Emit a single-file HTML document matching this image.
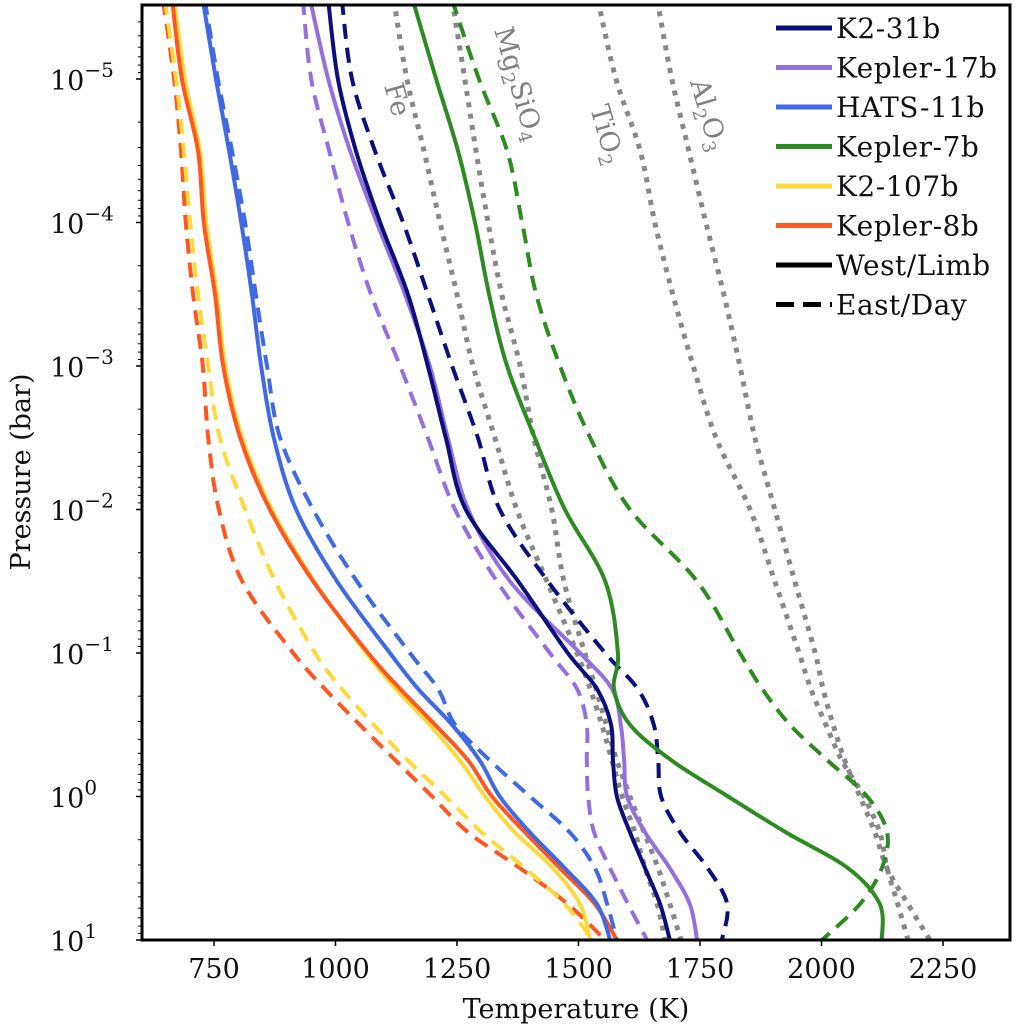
<!DOCTYPE html>
<html><head><meta charset="utf-8"><style>
body{margin:0;background:#fff}
svg{display:block}
.tk{font-family:"DejaVu Serif","Liberation Serif",serif;font-size:27px;fill:#111}
.lg{font-family:"DejaVu Serif","Liberation Serif",serif;font-size:28px;fill:#111;letter-spacing:0.5px}
.cl{font-family:"DejaVu Serif","Liberation Serif",serif;font-size:27px;fill:#808080}
</style></head><body>
<svg id="chart" width="1020" height="1033" viewBox="0 0 1020 1033" xmlns="http://www.w3.org/2000/svg">
<defs><clipPath id="clip"><rect x="143" y="6" width="866" height="933"/></clipPath></defs>
<g id="plot" clip-path="url(#clip)"></g>
<g id="axes"></g>
<g id="legend"></g>
</svg>
<script>
// Pressure levels (log10 bar)
const logP = [-5.55,-5,-4.5,-4,-3.5,-3,-2.5,-2,-1.5,-1,-0.75,-0.5,-0.25,0,0.25,0.5,0.75,1];
// Temperatures (K) at each pressure level
const k231W = [985,1005,1042,1092,1149,1190,1227,1268,1376,1478,1538,1567,1571,1579,1606,1637,1668,1688];
const k231E = [1013,1034,1081,1139,1190,1240,1293,1338,1437,1555,1622,1655,1664,1670,1709,1766,1806,1795];
const k17W = [948,985,1030,1085,1143,1194,1231,1273,1359,1503,1569,1587,1594,1600,1637,1688,1729,1744];
const k17E = [933,950,987,1026,1073,1133,1190,1246,1332,1441,1497,1517,1517,1520,1532,1565,1602,1641];
const h11W = [727,754,781,806,828,847,873,919,1003,1112,1170,1240,1297,1338,1400,1472,1538,1565];
const h11E = [731,758,787,814,836,859,886,954,1044,1153,1211,1246,1318,1400,1482,1534,1559,1579];
const k7W = [1159,1207,1252,1287,1316,1353,1410,1472,1555,1581,1573,1606,1692,1808,1927,2055,2120,2124];
const k7E = [1240,1295,1353,1384,1413,1462,1524,1606,1744,1832,1878,1935,2013,2094,2135,2124,2079,2001];
const k107W = [668,690,721,734,756,773,808,869,956,1063,1124,1194,1256,1308,1369,1448,1503,1524];
const k107E = [649,672,688,701,717,738,762,814,876,958,1013,1079,1149,1227,1301,1390,1472,1528];
const k8W = [664,684,717,729,752,769,804,865,954,1067,1133,1205,1273,1322,1390,1462,1534,1579];
const k8E = [645,668,682,692,707,727,738,760,808,913,978,1050,1124,1199,1273,1380,1478,1555];
// Condensation curves
const fe = [1120,1147,1182,1215,1250,1283,1328,1373,1435,1497,1524,1548,1569,1590,1616,1637,1662,1678];
const mg2sio4 = [1240,1266,1289,1314,1342,1380,1408,1445,1470,1513,1536,1557,1579,1606,1635,1664,1688,1711];
const tio2 = [1540,1577,1627,1657,1694,1736,1783,1853,1904,1954,1978,2009,2042,2087,2120,2135,2157,2178];
const al2o3 = [1662,1692,1727,1762,1799,1832,1863,1904,1945,1987,2003,2024,2048,2079,2110,2135,2178,2223];
const xTicks = [750,1000,1250,1500,1750,2000,2250];
const yTicks = [-5,-4,-3,-2,-1,0,1];
const legendNames = ["K2-31b","Kepler-17b","HATS-11b","Kepler-7b","K2-107b","Kepler-8b"];
const legendColors = ["#0a0f7a","#9370db","#4169e1","#2e8b22","#ffd93d","#ff5722"];

const X0=142, X1=1010, Y0=5, Y1=940;
const xs = t => 214 + (t-750)*0.486;
const ys = lp => 940 - (1-lp)*143.5;
const NS="http://www.w3.org/2000/svg";
function mk(tag, parent){const e=document.createElementNS(NS,tag);parent.appendChild(e);return e;}
const plot=document.getElementById('plot'), axes=document.getElementById('axes'), leg=document.getElementById('legend');

function smoothPath(pts){
  let d='M'+pts[0][0].toFixed(1)+' '+pts[0][1].toFixed(1);
  for(let i=0;i<pts.length-1;i++){
    const p0=pts[Math.max(0,i-1)],p1=pts[i],p2=pts[i+1],p3=pts[Math.min(pts.length-1,i+2)];
    const c1x=p1[0]+(p2[0]-p0[0])/6,c1y=p1[1]+(p2[1]-p0[1])/6;
    const c2x=p2[0]-(p3[0]-p1[0])/6,c2y=p2[1]-(p3[1]-p1[1])/6;
    d+='C'+c1x.toFixed(1)+' '+c1y.toFixed(1)+' '+c2x.toFixed(1)+' '+c2y.toFixed(1)+' '+p2[0].toFixed(1)+' '+p2[1].toFixed(1);
  }
  return d;
}
function curve(arr, color, style, name){
  const p=mk('path',plot);
  
  
  p.setAttribute('d', smoothPath(arr.map((t,i)=>[xs(t),ys(logP[i])])));
  p.setAttribute('fill','none');
  p.setAttribute('stroke',color);
  p.setAttribute('stroke-linejoin','round');
  if(style==='dot'){p.setAttribute('stroke-width','5');p.setAttribute('stroke-dasharray','5 6.5');p.setAttribute('stroke','#888');}
  else {p.setAttribute('stroke-width','4');if(style==='dash')p.setAttribute('stroke-dasharray','15 9');}
}
curve(fe,'#888','dot','fe-condensation-curve');
curve(mg2sio4,'#888','dot','mg2sio4-condensation-curve');
curve(tio2,'#888','dot','tio2-condensation-curve');
curve(al2o3,'#888','dot','al2o3-condensation-curve');
curve(k8E,legendColors[5],'dash','kepler-8b-east');
curve(k107E,legendColors[4],'dash','k2-107b-east');
curve(k107W,legendColors[4],'solid','k2-107b-west');
curve(k8W,legendColors[5],'solid','kepler-8b-west');
curve(h11E,legendColors[2],'dash','hats-11b-east');
curve(h11W,legendColors[2],'solid','hats-11b-west');
curve(k17E,legendColors[1],'dash','kepler-17b-east');
curve(k17W,legendColors[1],'solid','kepler-17b-west');
curve(k231W,legendColors[0],'solid','k2-31b-west');
curve(k231E,legendColors[0],'dash','k2-31b-east');
curve(k7W,legendColors[3],'solid','kepler-7b-west');
curve(k7E,legendColors[3],'dash','kepler-7b-east');

// condensation labels
[["Fe",384,86],["Mg",494,30],["Ti",590,108],["Al",690,82]].forEach((c,i)=>{
  const t=mk('text',plot);
  t.setAttribute('class','cl');
  
  
  t.setAttribute('transform','translate('+c[1]+','+c[2]+') rotate(74)');
  if(i===0){t.textContent='Fe';}
  else if(i===1){t.innerHTML='Mg<tspan dy="6" font-size="18">2</tspan><tspan dy="-6">SiO</tspan><tspan dy="6" font-size="18">4</tspan>';}
  else if(i===2){t.innerHTML='TiO<tspan dy="6" font-size="18">2</tspan>';}
  else {t.innerHTML='Al<tspan dy="6" font-size="18">2</tspan><tspan dy="-6">O</tspan><tspan dy="6" font-size="18">3</tspan>';}
});

// frame
const fr=mk('rect',axes);


fr.setAttribute('x',X0);fr.setAttribute('y',Y0);fr.setAttribute('width',X1-X0);fr.setAttribute('height',Y1-Y0);
fr.setAttribute('fill','none');fr.setAttribute('stroke','#000');fr.setAttribute('stroke-width','3');

xTicks.forEach(v=>{
  const l=mk('line',axes);
  
  
  l.setAttribute('x1',xs(v));l.setAttribute('x2',xs(v));l.setAttribute('y1',Y1);l.setAttribute('y2',Y1+6);
  l.setAttribute('stroke','#000');l.setAttribute('stroke-width','1.5');
  const t=mk('text',axes);
  
  
  t.setAttribute('class','tk');t.setAttribute('x',xs(v));t.setAttribute('y',978);t.setAttribute('text-anchor','middle');
  t.textContent=v;
});
yTicks.forEach(v=>{
  const l=mk('line',axes);
  
  
  l.setAttribute('x1',X0-6);l.setAttribute('x2',X0);l.setAttribute('y1',ys(v));l.setAttribute('y2',ys(v));
  l.setAttribute('stroke','#000');l.setAttribute('stroke-width','1.5');
  for(let m=2;m<=9;m++){
    const yy=ys(v-1+Math.log10(m));
    if(yy<Y0+2) continue;
    const mn=mk('line',axes);
    
    
    mn.setAttribute('x1',X0-4);mn.setAttribute('x2',X0);mn.setAttribute('y1',yy);mn.setAttribute('y2',yy);
    mn.setAttribute('stroke','#000');mn.setAttribute('stroke-width','1');
  }
  const t=mk('text',axes);
  
  
  t.setAttribute('class','tk');t.setAttribute('y',ys(v)+11);
  t.setAttribute('font-size','30');
  t.innerHTML='10<tspan dy="-13" font-size="20">'+(v<0?'\u2212'+(-v):v)+'</tspan>';
  t.setAttribute('x',50);t.setAttribute('text-anchor','start');
});
const xt=mk('text',axes);


xt.setAttribute('class','tk');xt.setAttribute('x',576);xt.setAttribute('y',1018);xt.setAttribute('text-anchor','middle');
xt.textContent='Temperature (K)';
const yt=mk('text',axes);


yt.setAttribute('class','tk');yt.setAttribute('transform','translate(30,472) rotate(-90)');yt.setAttribute('text-anchor','middle');
yt.textContent='Pressure (bar)';

// legend
const rows=legendNames.map((n,i)=>[n,legendColors[i],'solid']).concat([["West/Limb","#000","solid"],["East/Day","#000","dash"]]);
rows.forEach((r,i)=>{
  const y=28+i*39.5;
  const l=mk('line',leg);
  
  
  l.setAttribute('x1',776);l.setAttribute('x2',832);l.setAttribute('y1',y);l.setAttribute('y2',y);
  l.setAttribute('stroke',r[1]);l.setAttribute('stroke-width','5');
  if(r[2]==='dash')l.setAttribute('stroke-dasharray','18 9');
  const t=mk('text',leg);
  
  
  t.setAttribute('class','lg');t.setAttribute('x',836);t.setAttribute('y',y+10);
  t.textContent=r[0];
});
</script>
</body></html>
